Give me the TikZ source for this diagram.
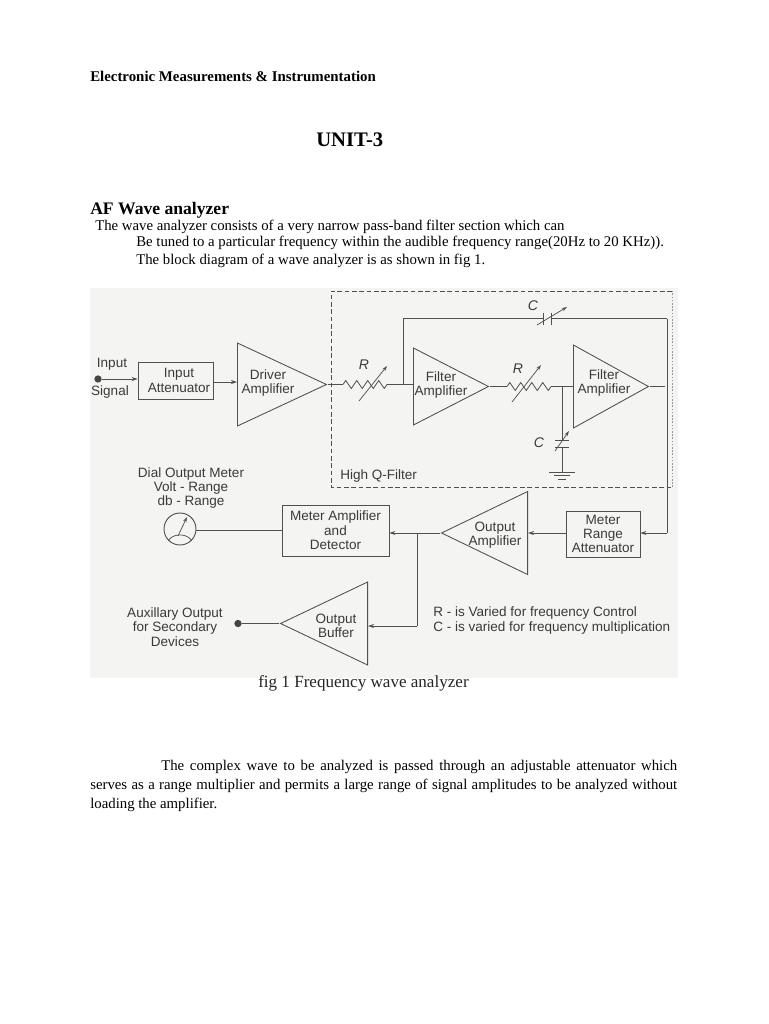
\documentclass[tikz,border=0pt]{standalone}
\usepackage{fontspec}
\setmainfont{Liberation Serif}
\newfontfamily\dsans{Liberation Sans}
\usetikzlibrary{shapes.geometric,arrows.meta,decorations.pathmorphing}
\definecolor{ink}{HTML}{3A3A3A}
\definecolor{wire}{HTML}{505050}
\definecolor{panel}{HTML}{F4F4F2}
\tikzset{
  x=0.75pt,y=-0.75pt,
  body/.style={inner sep=0,anchor=base west,font=\fontsize{11.1}{13}\selectfont,text=black},
  head/.style={inner sep=0,anchor=base west,font=\bfseries\fontsize{11.15}{13}\selectfont,text=black},
  lbl/.style={inner sep=0,align=center,font=\dsans\fontsize{10.15}{10.8}\selectfont,text=ink},
  sym/.style={inner sep=0,font=\dsans\itshape\fontsize{10.5}{12}\selectfont,text=ink},
  blockbox/.style={draw=wire,line width=0.65pt,inner sep=0,align=center,font=\dsans\fontsize{10.15}{10.8}\selectfont,text=ink},
  amp/.style={draw=wire,line width=0.65pt,isosceles triangle,isosceles triangle stretches,inner sep=0,anchor=lower side},
  wirel/.style={draw=wire,line width=0.6pt},
  arr/.style={wirel,-{Stealth[length=4.5pt,width=3pt]}},
  res/.style={wirel,decorate,decoration={zigzag,segment length=8.25pt,amplitude=3pt}},
  vararrow/.style={draw=wire,line width=0.55pt,-{Stealth[length=4pt,width=2.6pt]}},
  dot/.style={circle,fill=wire!85!black,inner sep=0,minimum size=5.5pt},
  dashbox/.style={draw=wire,line width=0.6pt,dash pattern=on 3.5pt off 2pt},
  dotedge/.style={draw=wire!60,line width=0.6pt,dash pattern=on 1.2pt off 1.2pt},
}
\begin{document}
\begin{tikzpicture}
\useasboundingbox (0,0) rectangle (768,1024);
\fill[white] (0,0) rectangle (768,1024);
\fill[panel] (90,288) rectangle (678,678);
% page text
\node[head] (t1) at (90,82) {Electronic Measurements \& Instrumentation};
\node[head,font=\bfseries\fontsize{15.5}{18}\selectfont] (t2) at (316,146) {UNIT-3};
\node[head,font=\bfseries\fontsize{13.2}{15}\selectfont] (t3) at (90,214) {AF Wave analyzer};
\node[body] (p1) at (95,230) {The wave analyzer consists of a very narrow pass-band filter section which can};
\node[body] (p2) at (136,246) {Be tuned to a particular frequency within the audible frequency range(20Hz to 20 KHz)).};
\node[body] (p3) at (136,264) {The block diagram of a wave analyzer is as shown in fig 1.};
\node[body] (p4) at (161,770) {\makebox[387pt][s]{The complex wave to be analyzed is passed through an adjustable attenuator which}};
\node[body] (p5) at (90,789) {\makebox[440.25pt][s]{serves as a range multiplier and permits a large range of signal amplitudes to be analyzed without}};
\node[body] (p6) at (90,808) {loading the amplifier.};
\node[inner sep=0,anchor=base west,font=\fontsize{12.8}{15}\selectfont,text=black!85] (cap) at (258,687) {fig 1 Frequency wave analyzer};
% dashed filter outline
\coordinate (dA) at (331,291); \coordinate (dB) at (672,487);
\draw[dashbox] (dA-|dB) -- (dA) -- (dA|-dB) -- (dB);
\draw[dotedge] (dB) -- (dA-|dB);
\node[lbl,anchor=west] (hq) at (340,476) {High Q-Filter};
% input
\node[dot] (in) at (98,379) {};
\node[lbl] (inT) at (112,364) {Input};
\node[lbl] (sigT) at (110,392) {Signal};
\node[blockbox,minimum width=56.25pt,minimum height=27.75pt] (att) at (175.5,380.5) {};
\node[lbl] (attT) at (179,380.5) {Input\\Attenuator};
\draw[arr] (in) -- (in-|att.west);
% driver
\node[amp,minimum width=62.25pt,minimum height=66.75pt] (drv) at (237,384.5) {};
\node[lbl] at (268,383) (drvT) {Driver\\Amplifier};
\draw[arr] (att.east|-0,382) -- (drv.lower side|-0,382);
% R1
\coordinate (r1a) at (343,384.5); \coordinate (r1b) at (388,384.5);
\draw[wirel] (drv.apex) -- (r1a);
\draw[res] (r1a) -- (r1b);
\coordinate (r1c) at (359,401); \coordinate (r1d) at (387,366);
\draw[vararrow] (r1c) -- (r1d);
\node[sym] (r1T) at (364,365) {R};
% Filter amp 1
\node[amp,minimum width=57.75pt,minimum height=56.25pt] (fa1) at (413,386.5) {};
\node[lbl] (fa1T) at (441,385) {Filter\\Amplifier};
\coordinate (j1) at (403,384.5);
\draw[wirel] (r1b) -- (j1) -- (fa1.lower side|-j1);
% feedback capacitor
\coordinate (j1t) at (403,318.5);
\coordinate (c1a) at (543,318.5); \coordinate (c1b) at (551,318.5);
\coordinate (fbR) at (667,318.5);
\draw[wirel] (j1) -- (j1t) -- (c1a);
\draw[wirel] (c1a) ++(0,-6) -- ++(0,12);
\draw[wirel] (c1b) ++(0,-6) -- ++(0,12);
\draw[wirel] (c1b) -- (fbR);
\coordinate (c1c) at (537,325); \coordinate (c1d) at (567,307);
\draw[vararrow] (c1c) -- (c1d);
\node[sym] (c1T) at (533,306) {C};
% R2
\coordinate (r2a) at (507,386.5); \coordinate (r2b) at (551,386.5);
\draw[wirel] (fa1.apex) -- (r2a);
\draw[res] (r2a) -- (r2b);
\coordinate (r2c) at (512,402); \coordinate (r2d) at (541,365);
\draw[vararrow] (r2c) -- (r2d);
\node[sym] (r2T) at (518,369) {R};
% Filter amp 2
\node[amp,minimum width=62.25pt,minimum height=56.25pt] (fa2) at (573,386.5) {};
\node[lbl] (fa2T) at (604,383) {Filter\\Amplifier};
\coordinate (j2) at (562,386.5);
\draw[wirel] (r2b) -- (j2) -- (fa2.lower side);
\coordinate (fa2o) at (665,386.5);
\draw[wirel] (fa2.apex) -- (fa2o);
% shunt capacitor and ground
\coordinate (c2a) at (562,440); \coordinate (c2b) at (562,447); \coordinate (gnd) at (562,472);
\draw[wirel,line width=0.45pt] (j2) -- (c2a);
\draw[wirel] (c2a) ++(-7,0) -- ++(14,0);
\draw[wirel] (c2b) ++(-7,0) -- ++(14,0);
\draw[wirel,line width=0.45pt] (c2b) -- (gnd);
\draw[wirel] (gnd) ++(-13,0) -- ++(26,0);
\draw[wirel] (gnd) ++(-8,3.5) -- ++(16,0);
\draw[wirel] (gnd) ++(-4,7) -- ++(8,0);
\coordinate (c2c) at (555,451); \coordinate (c2d) at (569,431);
\draw[vararrow] (c2c) -- (c2d);
\node[sym] (c2T) at (539,443) {C};
% second row
\node[blockbox,minimum width=55.5pt,minimum height=34.5pt] (mra) at (603,534) {Meter\\Range\\Attenuator};
\node[amp,shape border rotate=180,minimum width=62.25pt,minimum height=64.5pt] (oamp) at (528,533) {};
\node[lbl] (oampT) at (495,535) {Output\\Amplifier};
\node[blockbox,minimum width=80.25pt,minimum height=38.25pt] (mad) at (335.5,530.5) {Meter Amplifier\\and\\Detector};
\coordinate (mraIn) at (667,533);
\draw[wirel] (fbR) -- (mraIn);
\draw[arr] (mraIn) -- (mra.east|-mraIn);
\draw[arr] (mra.west|-oamp.lower side) -- (oamp.lower side);
\draw[arr] (oamp.apex) -- (mad.east|-oamp.apex);
% buffer
\coordinate (j3) at (417,533); \coordinate (j3b) at (417,626);
\draw[wirel] (j3) -- (j3b);
\node[amp,shape border rotate=180,minimum width=62.25pt,minimum height=65.25pt] (buf) at (368,623.5) {};
\node[lbl] (bufT) at (336,626) {Output\\Buffer};
\draw[arr] (j3b) -- (buf.lower side|-j3b);
\node[dot] (aux) at (238,623.5) {};
\draw[wirel,line width=0.5pt] (buf.apex) -- (aux);
\node[lbl] (auxT) at (175,627) {Auxillary Output\\for Secondary\\Devices};
% meter
\node[circle,draw=wire,line width=0.7pt,minimum size=24pt,inner sep=0] (mtr) at (180,529) {};
\draw[wirel] (mtr.east|-0,530) -- (mad.west|-0,530);
\coordinate (n1) at (178,536); \coordinate (n2) at (187,517);
\draw[vararrow] (n1) -- (n2);
\draw[wirel,line width=0.55pt] (mtr.south west) .. controls (173,533) and (187,533) .. (mtr.south east);
\node[lbl] (mtrT) at (191,488) {Dial Output Meter\\Volt - Range\\db - Range};
% notes
\node[lbl,anchor=base west,align=left] (note1) at (433,616) {R - is Varied for frequency Control};
\node[lbl,anchor=base west,align=left] (note2) at (433,631) {C - is varied for frequency multiplication};
\end{tikzpicture}
\end{document}
